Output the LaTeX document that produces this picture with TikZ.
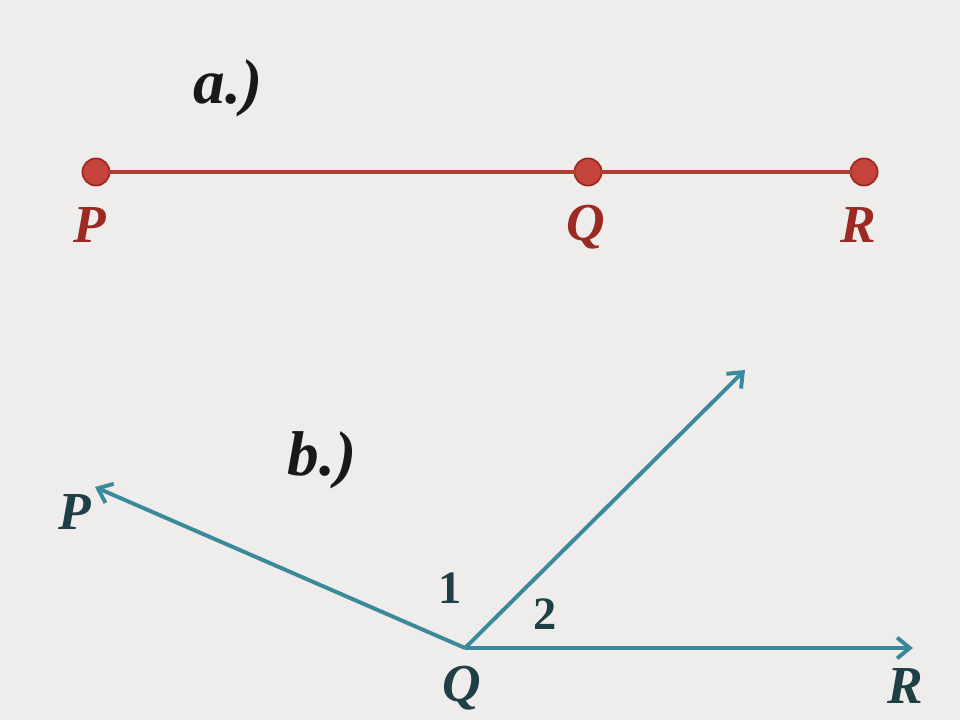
\documentclass[tikz,border=0pt]{standalone}
\usepackage{fontspec}
\setmainfont{Liberation Serif}
\usetikzlibrary{arrows.meta}
\definecolor{bgcol}{HTML}{EFEDEB}
\definecolor{linered}{HTML}{B23C34}
\definecolor{dotred}{HTML}{C4443B}
\definecolor{labred}{HTML}{9A2A22}
\definecolor{lineteal}{HTML}{3A8A9C}
\definecolor{labteal}{HTML}{1F3F47}
\tikzset{
  pt/.style={circle,inner sep=0pt,minimum size=0.68cm,fill=dotred,draw=labred,line width=1.2pt},
  seg/.style={draw=linered,line width=2.4pt,shorten <=-1pt,shorten >=-1pt},
  ray/.style={draw=lineteal,line width=2.8pt,-{Straight Barb[length=3.2mm,width=5.2mm,line width=2.8pt]}},
  redlab/.style={text=labred,font=\fontsize{38}{42}\selectfont\bfseries\itshape},
  teallab/.style={text=labteal,font=\fontsize{38}{42}\selectfont\bfseries\itshape},
  numlab/.style={text=labteal,font=\fontsize{33}{36}\selectfont\bfseries},
  parttitle/.style={text=black!90,font=\fontsize{45}{50}\selectfont\bfseries\itshape}
}
\begin{document}
\begin{tikzpicture}[x=0.025cm,y=-0.025cm]
                \fill[bgcol] (0,0) rectangle (960,720);
                \useasboundingbox (0,0) rectangle (960,720);

                % a.)
                \node[parttitle] (titlea) at (228,88) {a.)};
                \node[pt] (pa) at (96,172) {};
                \node[pt] (qa) at (588,172) {};
                \node[pt] (ra) at (864,172) {};
                \draw[seg] (pa) to (qa);
                \draw[seg] (qa) to (ra);
                \node[redlab] (pla) at (90,225) {P};
                \node[redlab] (qla) at (586,227) {Q};
                \node[redlab] (rla) at (858,225) {R};

                % b.)
                \node[parttitle] (titleb) at (322,460) {b.)};
                \coordinate (qb) at (465,648);
                \coordinate (pb) at (95,487);
                \coordinate (sb) at (745,370);
                \coordinate (rb) at (913,648);
                \draw[ray] (qb) to (pb);
                \draw[ray] (qb) to (sb);
                \draw[ray] (qb) to (rb);
                \node[teallab] (plb) at (75,512) {P};
                \node[teallab] (qlb) at (462,688) {Q};
                \node[teallab] (rlb) at (905,686) {R};
                \node[numlab] (one) at (450,588) {1};
                \node[numlab] (two) at (545,614) {2};
            \end{tikzpicture}
\end{document}
